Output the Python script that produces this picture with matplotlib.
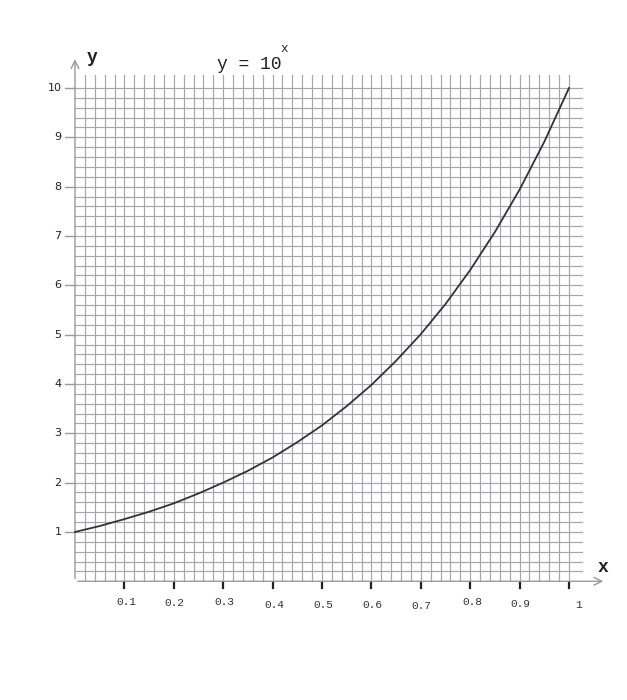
import numpy as np
import matplotlib.pyplot as plt

x_pts = [0.0, 0.05, 0.1, 0.15, 0.2, 0.25, 0.3, 0.35, 0.4, 0.45, 0.5,
         0.55, 0.6, 0.65, 0.7, 0.75, 0.8, 0.85, 0.9, 0.95, 1.0]
y_pts = [1.0, 1.12, 1.26, 1.41, 1.58, 1.78, 2.0, 2.24, 2.51, 2.82, 3.16,
         3.55, 3.98, 4.47, 5.01, 5.62, 6.31, 7.08, 7.94, 8.91, 10.0]

x_ticks = [0.1, 0.2, 0.3, 0.4, 0.5, 0.6, 0.7, 0.8, 0.9, 1.0]
x_labels = ['0.1', '0.2', '0.3', '0.4', '0.5', '0.6', '0.7', '0.8', '0.9', '1']
y_ticks = [1, 2, 3, 4, 5, 6, 7, 8, 9, 10]
y_labels = [str(v) for v in y_ticks]

# the hand-set x labels wobble a little (dx in x units, dy in y units)
lab_dx = [0.004, 0.002, 0.002, 0.004, 0.002, 0.002, 0.002, 0.004, 0.002, 0.02]
lab_dy = [0.0, -0.02, 0.0, -0.06, -0.06, -0.06, -0.08, 0.0, -0.04, -0.06]

MONO = 'Liberation Mono'
GRID = '#a6a6ae'
AXIS = '#9a9a9a'

fig = plt.figure(figsize=(6.27, 7.0), dpi=100)
fig.patch.set_facecolor('white')
ax = fig.add_axes([0.1196, 0.1696, 0.7879, 0.7047])
ax.set_xlim(0, 1)
ax.set_ylim(0, 10)
ax.axis('off')

# graph paper
for gx in np.arange(0.02, 1.001, 0.02):
    ax.plot([gx, gx], [0, 10.27], color=GRID, lw=0.85, clip_on=False, zorder=1)
for gy in np.arange(0.2, 10.001, 0.2):
    ax.plot([0, 1.026], [gy, gy], color=GRID, lw=0.85, clip_on=False, zorder=1)

# axes with open arrow heads
ax.annotate('', xy=(0, 10.64), xytext=(0, 0),
            arrowprops=dict(arrowstyle='->', color=AXIS, lw=1.0, mutation_scale=14),
            annotation_clip=False)
ax.annotate('', xy=(1.075, 0), xytext=(0, 0),
            arrowprops=dict(arrowstyle='->', color=AXIS, lw=1.0, mutation_scale=14),
            annotation_clip=False)

# ticks
for xt, lab, dx, dy in zip(x_ticks, x_labels, lab_dx, lab_dy):
    ax.plot([xt, xt], [-0.04, -0.13], color='#222222', lw=1.6, clip_on=False, zorder=3)
    ax.text(xt + dx, -0.42 + dy, lab, family=MONO, fontsize=8, color='#333333',
            ha='center', va='center')
for yt, lab in zip(y_ticks, y_labels):
    ax.plot([-0.02, 0], [yt, yt], color=AXIS, lw=1.0, clip_on=False, zorder=3)
    ax.text(-0.027, yt, lab, fontsize=8, color='#222222', ha='right', va='center')

# curve
ax.plot(x_pts, y_pts, color='#333333', lw=1.3, zorder=4, clip_on=False)

# labels and title
ax.text(0.035, 10.62, 'y', family=MONO, fontweight='bold', fontsize=13,
        ha='center', va='center', color='#222222')
ax.text(1.069, 0.28, 'x', family=MONO, fontweight='bold', fontsize=13,
        ha='center', va='center', color='#222222')
ax.text(0.352, 10.48, 'y = 10', family=MONO, fontsize=13,
        ha='center', va='center', color='#222222')
ax.text(0.423, 10.8, 'x', family=MONO, fontsize=9,
        ha='center', va='center', color='#222222')

fig.savefig('out.png', dpi=100)
